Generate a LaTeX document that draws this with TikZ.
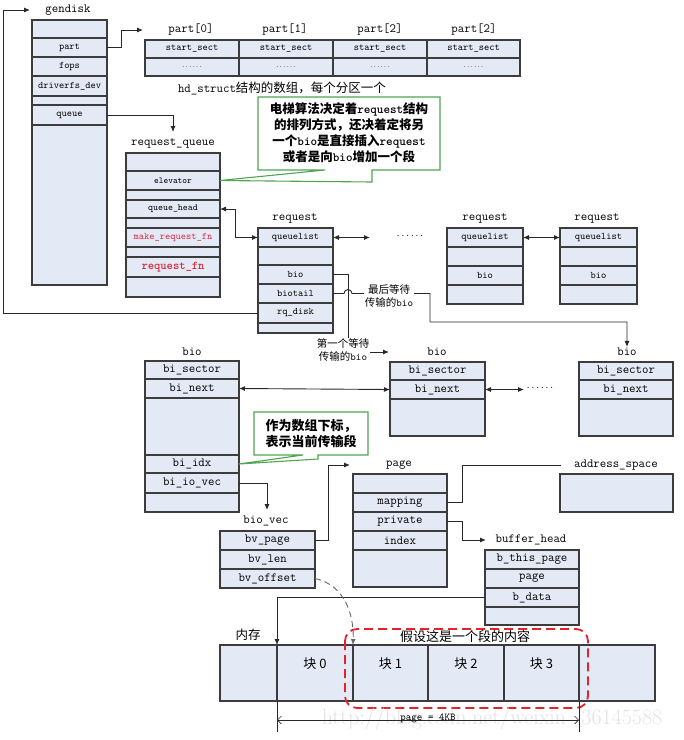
\documentclass[tikz,border=0pt]{standalone}
\usepackage{fontspec}
\newfontfamily\cjk{Noto Sans CJK SC}
\usetikzlibrary{arrows.meta}
\definecolor{bfill}{RGB}{228,234,245}
\definecolor{bord}{RGB}{60,60,60}
\definecolor{linec}{RGB}{40,40,40}
\definecolor{cgreen}{RGB}{80,165,80}
\definecolor{cred}{RGB}{225,35,45}
\definecolor{fred}{RGB}{215,40,60}
\newcommand\fld[7]{\node[fb,#7,minimum width=#4pt,minimum height=#5pt] (#1) at (#2,#3) {#6};}
\newcommand\smdots{{\fontsize{6.5}{7}\selectfont\ttfamily ......}}
\begin{document}
\begin{tikzpicture}[x=1pt,y=-1pt,
 fb/.style={draw=bord, fill=bfill, line width=1.1pt, inner sep=0pt, outer sep=0pt, anchor=north west, font=\fontsize{10}{12}\selectfont\ttfamily},
 big/.style={font=\fontsize{12.5}{14}\selectfont\ttfamily},
 ttl/.style={font=\fontsize{12.5}{14}\selectfont\ttfamily, inner sep=1pt},
 conn/.style={draw=linec, line width=0.9pt},
 arr/.style={conn, -{Latex[length=6pt,width=5pt]}},
 darr/.style={conn, {Latex[length=6pt,width=5pt]}-{Latex[length=6pt,width=5pt]}},
 callout/.style={draw=cgreen, fill=white, line width=1.1pt},
 cn/.style={font=\cjk\bfseries\fontsize{12.5}{16}\selectfont, align=center, inner sep=0pt},
 cnsm/.style={font=\cjk\fontsize{10.5}{13}\selectfont, align=center, fill=white, inner sep=1pt},
 mem/.style={fb, font=\cjk\fontsize{13}{15}\selectfont, text height=10pt, text depth=20pt},
 dotl/.style={font=\fontsize{9}{10}\selectfont\ttfamily, inner sep=0pt},
]
\fill[white] (0,0) rectangle (684,740);
\useasboundingbox (0,0) rectangle (684,740);

% ---------- gendisk ----------
\node[ttl] (gdlab) at (68,10) {gendisk};
\fld{gd0}{32}{20}{75}{18}{}{}
\fld{gdpart}{32}{38}{75}{19}{part}{}
\fld{gdfops}{32}{57}{75}{19}{fops}{}
\fld{gddrv}{32}{76}{75}{20}{driverfs\_dev}{}
\fld{gd4}{32}{96}{75}{9}{}{}
\fld{gdqueue}{32}{105}{75}{20}{queue}{}
\fld{gd6}{32}{125}{75}{160}{}{}

% ---------- parts ----------
\node[ttl] (p0lab) at (191,30) {part[0]};
\node[ttl] (p1lab) at (285,30) {part[1]};
\node[ttl] (p2lab) at (380,30) {part[2]};
\node[ttl] (p3lab) at (474,30) {part[2]};
\fld{p0a}{145}{40}{94}{18}{start\_sect}{}
\fld{p0b}{145}{58}{94}{18}{\smdots}{}
\fld{p1a}{239}{40}{94}{18}{start\_sect}{}
\fld{p1b}{239}{58}{94}{18}{\smdots}{}
\fld{p2a}{333}{40}{94}{18}{start\_sect}{}
\fld{p2b}{333}{58}{94}{18}{\smdots}{}
\fld{p3a}{427}{40}{93}{18}{start\_sect}{}
\fld{p3b}{427}{58}{93}{18}{\smdots}{}
\node[font=\cjk\fontsize{12.5}{14}\selectfont, inner sep=0pt] (cap) at (282,88) {\texttt{hd\_struct}结构的数组，每个分区一个};

% ---------- request_queue ----------
\node[ttl] (rqlab) at (173,143) {request\_queue};
\fld{rq0}{126}{153}{94}{18}{}{}
\fld{rqelev}{126}{171}{94}{19}{elevator}{font=\fontsize{9}{11}\selectfont\ttfamily}
\fld{rq2}{126}{190}{94}{10}{}{}
\fld{rqqh}{126}{200}{94}{18}{queue\_head}{font=\fontsize{9.5}{11}\selectfont\ttfamily}
\fld{rq4}{126}{218}{94}{10}{}{}
\fld{rqmrf}{126}{228}{94}{19}{make\_request\_fn}{text=fred}
\fld{rq6}{126}{247}{94}{10}{}{}
\fld{rqrf}{126}{257}{94}{20}{request\_fn}{text=fred, font=\fontsize{12}{14}\selectfont\ttfamily\bfseries}
\fld{rq8}{126}{277}{94}{20}{}{}

% ---------- callout 1 ----------
\draw[callout] (258,97) -- (440,97) -- (440,170) -- (372,170) -- (372,182) -- (rqelev.east) -- (325,170) -- (258,170) -- cycle;
\node[cn] (co1) at (349,133) {电梯算法决定着\texttt{request}结构\\的排列方式，还决着定将另\\一个\texttt{bio}是直接插入\texttt{request}\\或者是向\texttt{bio}增加一个段};

% ---------- requests ----------
\node[ttl] (r1lab) at (295,218) {request};
\fld{r1ql}{258}{228}{75}{19}{queuelist}{}
\fld{r1e}{258}{247}{75}{18}{}{}
\fld{r1bio}{258}{265}{75}{19}{bio}{}
\fld{r1bt}{258}{284}{75}{19}{biotail}{}
\fld{r1rq}{258}{303}{75}{20}{rq\_disk}{}
\fld{r1e2}{258}{323}{75}{10}{}{}

\node[ttl] (r2lab) at (485,218) {request};
\fld{r2ql}{447}{228}{76}{19}{queuelist}{}
\fld{r2e}{447}{247}{76}{19}{}{}
\fld{r2bio}{447}{266}{76}{19}{bio}{}
\fld{r2e2}{447}{285}{76}{19}{}{}

\node[ttl] (r3lab) at (597,218) {request};
\fld{r3ql}{560}{228}{77}{19}{queuelist}{}
\fld{r3e}{560}{247}{77}{19}{}{}
\fld{r3bio}{560}{266}{77}{19}{bio}{}
\fld{r3e2}{560}{285}{77}{19}{}{}

\node[dotl] (dotsA) at (410,236) {......};

% ---------- bios ----------
\node[ttl] (b1lab) at (192,352) {bio};
\fld{b1s}{145}{361}{94}{18}{bi\_sector}{big}
\fld{b1n}{145}{379}{94}{19}{bi\_next}{big}
\fld{b1e}{145}{398}{94}{57}{}{}
\fld{b1idx}{145}{455}{94}{18}{bi\_idx}{big}
\fld{b1iov}{145}{473}{94}{20}{bi\_io\_vec}{big}
\fld{b1e2}{145}{493}{94}{19}{}{}

\node[ttl] (b2lab) at (437,352) {bio};
\fld{b2s}{390}{362}{95}{18}{bi\_sector}{big}
\fld{b2n}{390}{380}{95}{19}{bi\_next}{big}
\fld{b2e}{390}{399}{95}{37}{}{}

\node[ttl] (b3lab) at (627,352) {bio};
\fld{b3s}{579}{362}{94}{18}{bi\_sector}{big}
\fld{b3n}{579}{380}{94}{19}{bi\_next}{big}
\fld{b3e}{579}{399}{94}{37}{}{}

\node[dotl] (dotsB) at (540,388) {......};

% ---------- callout 2 ----------
\draw[callout] (254,412) -- (368,412) -- (368,455) -- (318,455) -- (318,459) -- (b1idx.east) -- (303,455) -- (254,455) -- cycle;
\node[cn, font=\cjk\bfseries\fontsize{13}{16}\selectfont] (co2) at (311,434) {作为数组下标，\\表示当前传输段};

% ---------- bio_vec, page, buffer_head ----------
\node[ttl] (bvlab) at (266,521) {bio\_vec};
\fld{bvp}{220}{531}{95}{19}{bv\_page}{big}
\fld{bvl}{220}{550}{95}{19}{bv\_len}{big}
\fld{bvo}{220}{569}{95}{19}{bv\_offset}{big}

\node[ttl] (pglab) at (399,465) {page};
\fld{pg0}{353}{474}{94}{19}{}{}
\fld{pgmap}{353}{493}{94}{19}{mapping}{big}
\fld{pgpriv}{353}{512}{94}{19}{private}{big}
\fld{pgidx}{353}{531}{94}{19}{index}{big}
\fld{pge}{353}{550}{94}{37}{}{}

\node[ttl] (aslab) at (616,465) {address\_space};
\fld{asbox}{560}{474}{113}{38}{}{}

\node[ttl] (bhlab) at (531,540) {buffer\_head};
\fld{bhtp}{485}{550}{94}{19}{b\_this\_page}{big}
\fld{bhpg}{485}{569}{94}{19}{page}{big}
\fld{bhbd}{485}{588}{94}{19}{b\_data}{big}
\fld{bhe}{485}{607}{94}{18}{}{}

% ---------- memory ----------
\node[font=\cjk\fontsize{12.5}{14}\selectfont, inner sep=0pt] (memlab) at (248,635) {内存};
\fld{m0}{220}{645}{57}{56}{}{}
\fld{m1}{277}{645}{76}{56}{块 0}{mem}
\fld{m2}{353}{645}{75}{56}{块 1}{mem}
\fld{m3}{428}{645}{76}{56}{块 2}{mem}
\fld{m4}{504}{645}{75}{56}{块 3}{mem}
\fld{m5}{579}{645}{76}{56}{}{}

% ---------- connectors ----------
\coordinate (lcA) at (3,313);
\coordinate (lcB) at (3,10);
\coordinate (gdin) at (30,10);
\draw[arr] (r1rq.west) -- (lcA) -- (lcB) -- (gdin);

\coordinate (partin) at (143,30);
\draw[arr] (gdpart.east) -- ++(14,0) |- (partin);

\coordinate (qin) at (173,132);
\draw[arr] (gdqueue.east) -| (qin);

\draw[darr] (rqqh.east) -- ++(15,0) |- (r1ql.west);

\coordinate (ql1end) at (370,237.5);
\draw[darr] (r1ql.east) -- (ql1end);
\draw[darr] (r2ql.east) -- (r3ql.west);

\coordinate (firstin) at (389,352);
\draw[arr] (r1bio.east) -- ++(15,0) |- (firstin);
\node[cnsm] (firstlab) at (343,350) {第一个等待\\传输的\texttt{bio}};

\draw[arr] (r1bt.east) -- (344,293.5) arc[start angle=180, end angle=360, radius=4] -- (430,293.5) -- (430,322) -| (b3lab.north);
\node[cnsm] (lastlab) at (389,296) {最后等待\\传输的\texttt{bio}};

\draw[darr] (b1n.east) -- (b2n.west);
\coordinate (bn2end) at (524,389.5);
\draw[darr] (b2n.east) -- (bn2end);

\coordinate (bvin) at (267,510);
\draw[arr] (b1iov.east) -| (bvin);

\coordinate (pgin) at (350,465);
\draw[arr] (bvp.east) -- ++(13,0) |- (pgin);

\coordinate (asin) at (561,465);
\draw[conn] (pgmap.east) -- ++(15,0) |- (asin);

\coordinate (bhin) at (486,540);
\draw[arr] (pgpriv.east) -- ++(15,0) |- (bhin);

\draw[arr] (bhbd.west) -| (m1.north west);

\draw[conn, draw=gray!80!black, dash pattern=on 6pt off 4pt, -{Latex[length=6pt,width=5pt]}] (bvo.east) .. controls (345,585) and (354,615) .. (m2.north west);

% ---------- segment highlight ----------
\draw[cred, line width=1.8pt, dash pattern=on 9pt off 5pt, rounded corners=12pt] (345,629) rectangle (588,708);
\node[font=\cjk\fontsize{13}{15}\selectfont, inner sep=0pt] (seglab) at (465,637) {假设这是一个段的内容};

% ---------- dimension ----------
\node[font=\fontsize{22}{24}\selectfont\rmfamily, text=gray!22, inner sep=0pt] (wm) at (492,719) {http://blog.csdn.net/weixin\_36145588};
\coordinate (dimL) at (277,720);
\coordinate (dimR) at (579,720);
\draw[linec, line width=0.6pt] (m1.south west) -- ++(0,31);
\draw[linec, line width=0.6pt] (m4.south east) -- ++(0,31);
\draw[linec, line width=0.6pt, {Straight Barb[length=4pt]}-{Straight Barb[length=4pt]}] (dimL) -- (dimR);
\node[font=\fontsize{10.5}{12}\selectfont\ttfamily, inner sep=0pt] (dimlab) at (428,718) {page = 4KB};
\end{tikzpicture}
\end{document}
